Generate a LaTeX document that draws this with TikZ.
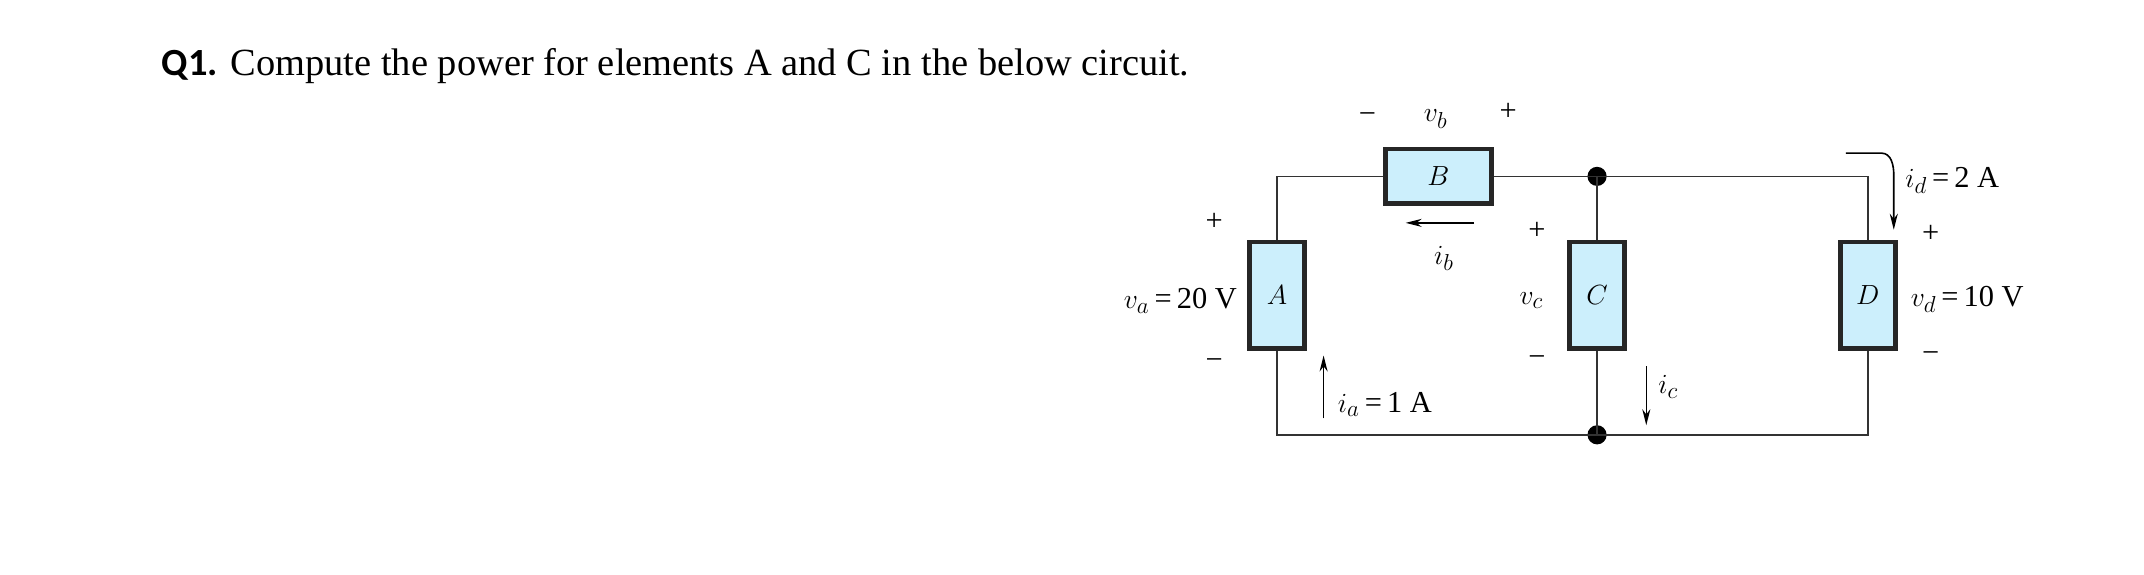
\documentclass[tikz,border=0pt]{standalone}
\usepackage{fontspec}
\setmainfont{Liberation Serif}
\newfontfamily\qsans{Carlito}
\usetikzlibrary{arrows.meta}
\begin{document}
\begin{tikzpicture}[x=0.03cm,y=-0.03cm,
  wire/.style={line width=1.1pt,draw=black!80},
  elem/.style={draw=black!85,line width=3pt,fill=cyan!20!white,minimum width=1.2cm,minimum height=2.34cm,inner sep=0pt},
  belem/.style={draw=black!85,line width=3pt,fill=cyan!20!white,minimum width=2.34cm,minimum height=1.2cm,inner sep=0pt},
  lab/.style={font=\fontsize{19}{22}\selectfont,inner sep=1pt},
  iarr/.style={line width=1pt,-{Stealth[length=10pt,width=5pt]}},
  dot/.style={circle,fill=black,inner sep=0pt,minimum size=0.42cm}]
\useasboundingbox (0,0) rectangle (1568,420);
\node[anchor=base west,inner sep=0pt,font=\fontsize{24}{28}\selectfont] (title) at (118,55) {{\qsans\bfseries Q1.} Compute the power for elements A and C in the below circuit.};
\coordinate (tr) at (1366,129); \coordinate (br) at (1366,318);
\node[dot] (nt) at (1168,129) {}; \node[dot] (nb) at (1168,318) {};
\node[elem] (A) at (934,216) {};
\node[belem] (B) at (1052,129) {};
\node[elem] (C) at (1168,216) {};
\node[elem] (D) at (1366,216) {};
\draw[wire] (A.north) |- (B.west);
\draw[wire] (B.east) -- (nt.center) -- (tr) -- (D.north);
\draw[wire] (A.south) |- (nb.center) -- (br) -- (D.south);
\draw[wire] (nt.center) -- (C.north); \draw[wire] (C.south) -- (nb.center);
\node[lab] at (A) {$A$}; \node[lab] at (B) {$B$};
\node[lab] at (C) {$C$}; \node[lab] at (D) {$D$};
\node[lab] (mb) at (1000,86) {−}; \node[lab] (vb) at (1050,87) {$v_b$}; \node[lab] (pb) at (1103,82) {+};
\coordinate (ib1) at (1078,163); \coordinate (ib2) at (1028,163);
\draw[iarr] (ib1) -- (ib2);
\node[lab] (ib) at (1056,189) {$i_b$};
\node[lab] (pa) at (888,162) {+};
\node[lab,anchor=east] (va) at (906,220) {$v_a$\,=\,20 V};
\node[lab] (ma) at (888,266) {−};
\coordinate (ia1) at (968,306); \coordinate (ia2) at (968,260);
\draw[iarr] (ia1) -- (ia2);
\node[lab,anchor=west] (ia) at (977,296) {$i_a$\,=\,1 A};
\node[lab] (pc) at (1124,169) {+};
\node[lab] (vc) at (1120,220) {$v_c$};
\node[lab] (mc) at (1124,264) {−};
\coordinate (ic1) at (1204,268); \coordinate (ic2) at (1204,311);
\draw[iarr] (ic1) -- (ic2);
\node[lab] (ic) at (1220,283) {$i_c$};
\coordinate (id1) at (1350,112); \coordinate (id2) at (1385,168);
\draw[iarr] (id1) -- (1376,112) to[out=0,in=90] (1385,128) -- (id2);
\node[lab,anchor=west] (id) at (1392,132) {$i_d$\,=\,2 A};
\node[lab] (pd) at (1412,171) {+};
\node[lab,anchor=west] (vd) at (1396,219) {$v_d$\,=\,10 V};
\node[lab] (md) at (1412,261) {−};
\end{tikzpicture}
\end{document}
